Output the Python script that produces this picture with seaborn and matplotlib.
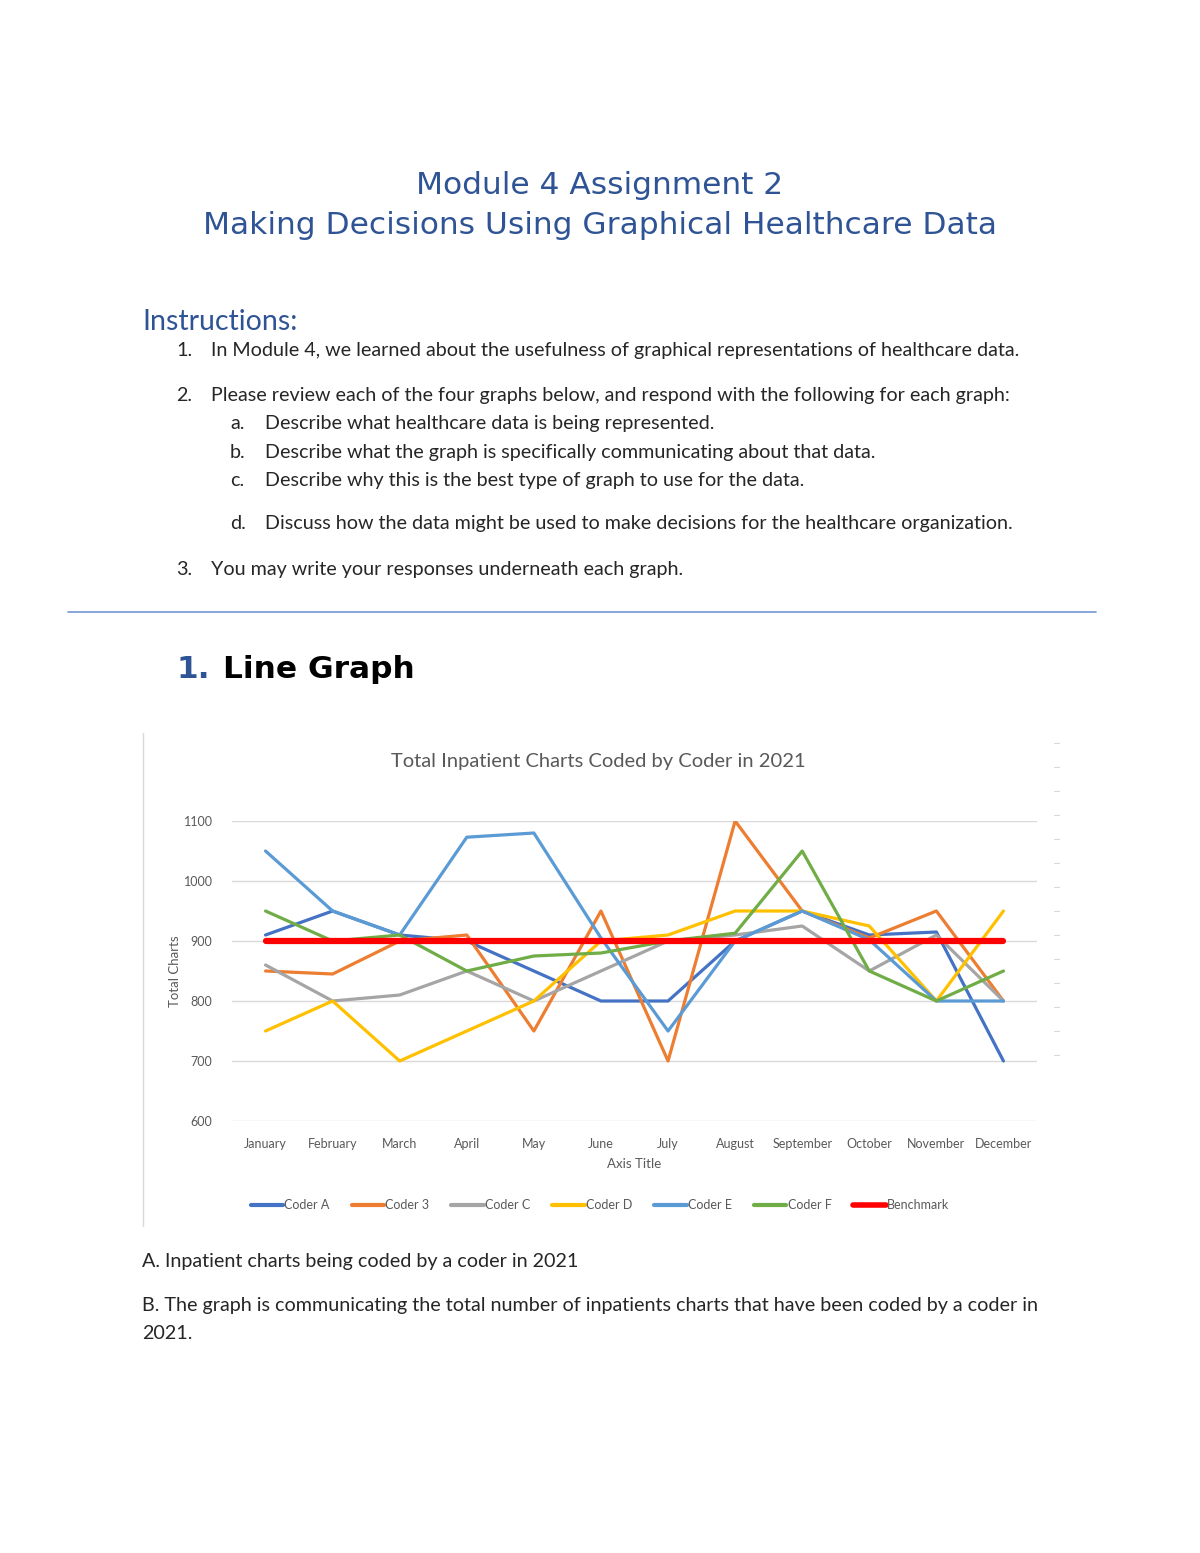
import numpy as np
import pandas as pd
import seaborn as sns
import matplotlib.pyplot as plt
from matplotlib.lines import Line2D

# data
months = ['January', 'February', 'March', 'April', 'May', 'June', 'July',
          'August', 'September', 'October', 'November', 'December']
coder_a = [910, 950, 910, 900, 850, 800, 800, 900, 950, 910, 915, 700]
coder_3 = [850, 845, 900, 910, 750, 950, 700, 1100, 950, 905, 950, 800]
coder_c = [860, 800, 810, 850, 800, 850, 900, 910, 925, 850, 910, 800]
coder_d = [750, 800, 700, 750, 800, 900, 910, 950, 950, 925, 800, 950]
coder_e = [1050, 950, 910, 1073, 1080, 905, 750, 900, 950, 902, 800, 800]
coder_f = [950, 900, 910, 850, 875, 880, 900, 913, 1050, 850, 800, 850]
benchmark = [900] * 12

series_names = ['Coder A', 'Coder 3', 'Coder C', 'Coder D', 'Coder E', 'Coder F', 'Benchmark']
series_vals = [coder_a, coder_3, coder_c, coder_d, coder_e, coder_f, benchmark]
colors = ['#4472C4', '#ED7D31', '#A5A5A5', '#FFC000', '#5B9BD5', '#70AD47', '#FF0000']

rows = []
for name, vals in zip(series_names, series_vals):
    for i, v in enumerate(vals):
        rows.append({'month_idx': i, 'charts': v, 'coder': name})
df = pd.DataFrame(rows)

sns.set_style('white')
plt.rcParams['font.family'] = ['Lato', 'DejaVu Sans']

W, H = 1200, 1553
fig = plt.figure(figsize=(W / 100, H / 100), dpi=100)
fig.patch.set_facecolor('white')


def txt(x, y, s, **kw):
    kw.setdefault('va', 'center_baseline')
    fig.text(x / W, 1 - y / H, s, **kw)


blue = '#2F5496'
body = 14.2

# header of the document
txt(600, 183, 'Module 4 Assignment 2', ha='center', fontsize=22.5, color=blue,
    family='DejaVu Sans')
txt(600, 222, 'Making Decisions Using Graphical Healthcare Data', ha='center',
    fontsize=22.5, color=blue, family='DejaVu Sans')
txt(142, 319, 'Instructions:', fontsize=20.5, color=blue)

txt(176, 349, '1.', fontsize=body)
txt(211, 349, 'In Module 4, we learned about the usefulness of graphical representations of healthcare data.', fontsize=body)
txt(176, 394, '2.', fontsize=body)
txt(211, 394, 'Please review each of the four graphs below, and respond with the following for each graph:', fontsize=body)
sub = [('a.', 422, 'Describe what healthcare data is being represented.'),
       ('b.', 451, 'Describe what the graph is specifically communicating about that data.'),
       ('c.', 479, 'Describe why this is the best type of graph to use for the data.'),
       ('d.', 522, 'Discuss how the data might be used to make decisions for the healthcare organization.')]
for letter, yy, s in sub:
    txt(230, yy, letter, fontsize=body)
    txt(265, yy, s, fontsize=body)
txt(176, 568, '3.', fontsize=body)
txt(211, 568, 'You may write your responses underneath each graph.', fontsize=body)

fig.add_artist(Line2D([68 / W, 1096 / W], [1 - 612 / H, 1 - 612 / H],
                      color='#7F9FD8', lw=1.3))

txt(176, 667, '1.', fontsize=22.5, color=blue, weight='bold', family='DejaVu Sans')
txt(223, 667, 'Line Graph', fontsize=22.5, color='black', weight='bold', family='DejaVu Sans')

# chart frame bits
fig.add_artist(Line2D([143 / W, 143 / W], [1 - 733 / H, 1 - 1226 / H], color='#D9D9D9', lw=1))
for yy in range(743, 1060, 24):
    fig.add_artist(Line2D([1054 / W, 1059 / W], [1 - yy / H, 1 - yy / H], color='#D9D9D9', lw=0.8))

txt(598, 760, 'Total Inpatient Charts Coded by Coder in 2021', ha='center',
    fontsize=14.5, color='#595959')

ax = fig.add_axes([232 / W, 1 - 1121 / H, (1037 - 232) / W, 300 / H])
sns.lineplot(data=df, x='month_idx', y='charts', hue='coder', palette=colors,
             hue_order=series_names, ax=ax, linewidth=2.3, legend=False)
ax.lines[-1].set_linewidth(4.5)
ax.lines[-1].set_zorder(5)

ax.set_xlim(-0.5, 11.5)
ax.set_ylim(600, 1100)
ax.set_yticks(range(600, 1101, 100))
ax.set_xticks(range(12))
ax.set_xticklabels(months)
ax.tick_params(axis='both', length=0, labelsize=9, colors='#595959')
ax.tick_params(axis='x', pad=12)
ax.tick_params(axis='y', pad=14)
ax.yaxis.grid(True, color='#D9D9D9', lw=1)
ax.set_axisbelow(True)
for sp in ax.spines.values():
    sp.set_visible(False)
ax.set_xlabel('Axis Title', fontsize=9.5, color='#595959', labelpad=6)
ax.set_ylabel('Total Charts', fontsize=9.5, color='#595959', labelpad=2)

handles = [Line2D([0], [0], color=c, lw=4 if n == 'Benchmark' else 3) for n, c in zip(series_names, colors)]
fig.legend(handles, series_names, loc='center', ncol=7, frameon=False,
           bbox_to_anchor=(600 / W, 1 - 1205 / H), fontsize=9, labelcolor='#595959',
           handlelength=2.6, handletextpad=0.1, columnspacing=1.75)

txt(142, 1260, 'A. Inpatient charts being coded by a coder in 2021', fontsize=body)
txt(142, 1304, 'B. The graph is communicating the total number of inpatients charts that have been coded by a coder in', fontsize=body)
txt(142, 1332, '2021.', fontsize=body)

fig.savefig('out.png', dpi=100, facecolor='white')
